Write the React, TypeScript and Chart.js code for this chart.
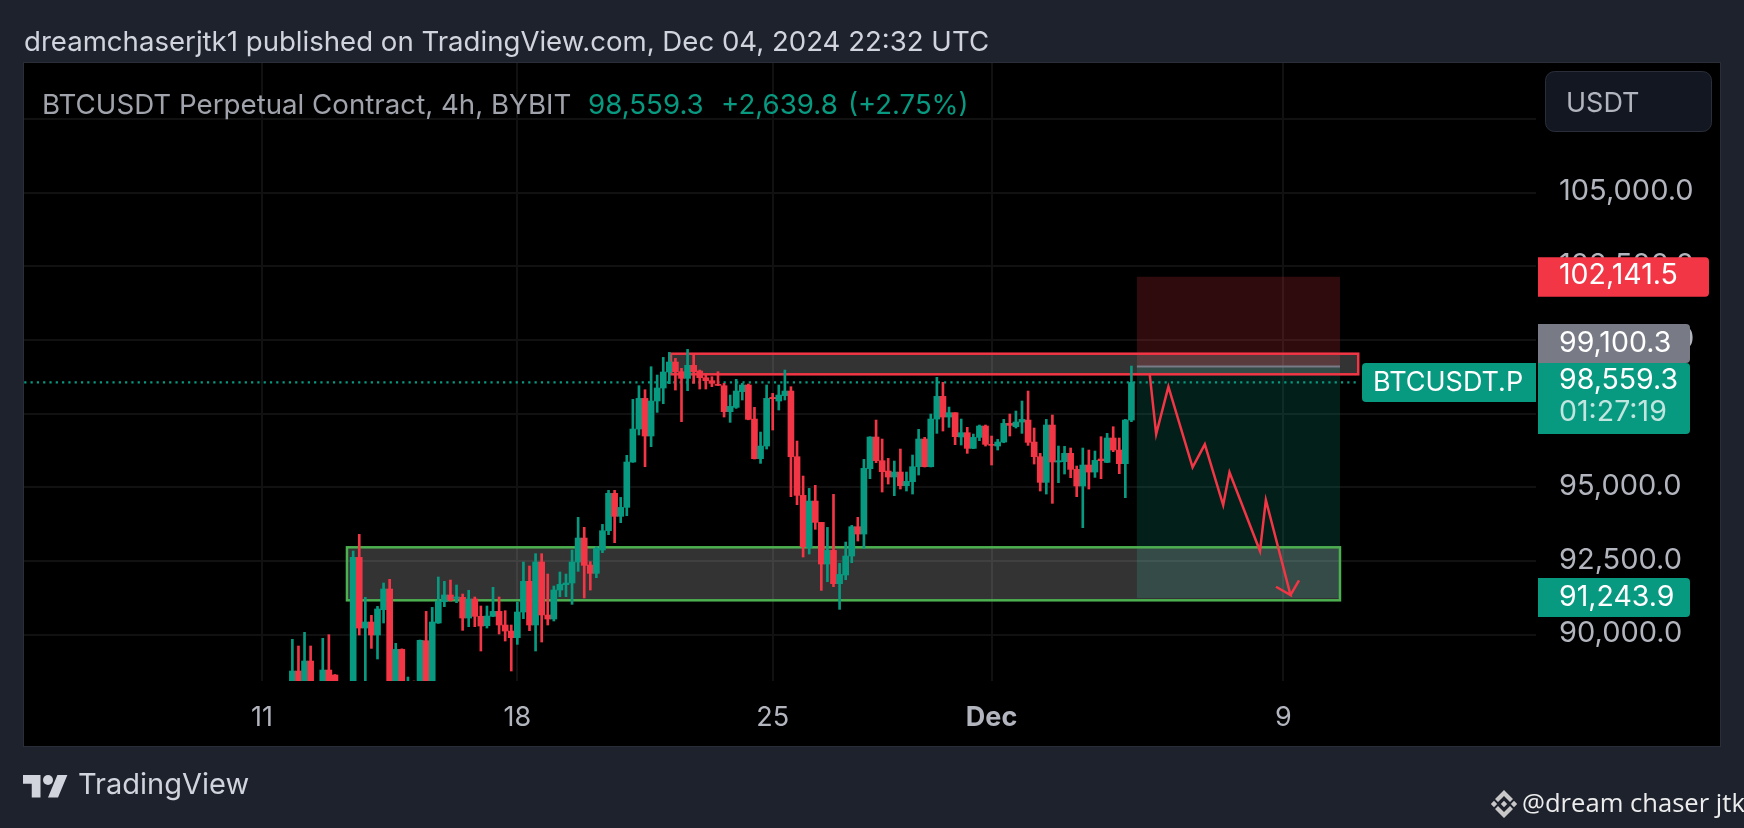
import React, { useEffect, useRef } from "react";
import { Chart, registerables } from "chart.js";

Chart.register(...registerables);

const firstBar = 5;
const opens = [
  88000,88769,88000,89108,88100,87800,88802,88633,87900,87800,
  87950,92624,90227,90431,89990,90849,91550,87900,89503,87900,
  88100,88000,89797,88441,90397,91120,91347,91233,91267,90566,
  91211,90623,90306,90623,90792,90329,90125,89899,90770,91810,
  90329,92466,90668,90532,91516,91697,91754,92466,93280,92364,
  92081,92873,93528,94795,94015,94320,95858,96977,98017,96740,
  97927,98368,98911,99250,98922,98696,99137,98945,98718,98617,
  98492,98447,97565,97712,98244,98470,97316,95971,96400,98050,
  97927,98108,98266,96038,94727,92963,94535,93811,92398,92861,
  91731,92025,92669,93664,93415,95632,96706,95903,95553,95349,
  95518,95055,95190,95699,96638,95699,97316,98085,97384,97531,
  96706,96853,96321,96694,97079,96457,96400,96536,97169,97056,
  97214,97282,96536,96038,95168,97113,95858,95870,96152,95609,
  95044,95756,95518,95960,95846,96672,96265,95801,97282,
];
const highs = [
  89843,89617,90080,89617,88300,89877,90001,88650,88200,88100,
  92839,93404,91267,90657,90962,91754,91878,89707,89520,88565,
  88429,89820,90792,90928,91957,91810,91855,91686,91380,91505,
  91279,90973,90973,91607,91279,90815,90329,91109,92466,92330,
  92749,92749,92059,91652,92127,92059,92873,93981,93642,92477,
  92986,93743,94897,94897,94659,96084,97983,98447,98311,99091,
  98809,99408,99578,99374,99035,99679,99521,98978,98865,98752,
  98922,98526,98130,98662,98526,98504,97712,96875,98470,98187,
  98470,98978,98413,96570,95383,94964,95066,93811,93641,94761,
  92420,93144,93709,93981,95948,96717,97282,96638,95982,95892,
  96299,95518,96095,96966,96694,97486,98730,98560,97723,97531,
  97316,97034,96807,97113,97113,96740,96626,97305,97486,97588,
  97927,98266,97011,96152,97305,97452,96400,96389,96333,95722,
  96333,96265,96231,96717,96830,97056,96672,97305,99114,
];
const lows = [
  87800,87700,87800,87900,87500,87500,87600,87700,87600,87500,
  87700,89990,88300,89537,89176,90397,87600,87600,87600,87800,
  87800,87900,88300,88407,90385,90951,91143,91086,90148,90272,
  90272,89447,90227,90611,90024,89786,88769,89673,90544,90137,
  89447,89752,90329,90465,91290,91290,91030,92149,91245,91516,
  91934,92782,93393,93121,93800,94037,95846,96774,95699,96378,
  97542,97836,98515,98300,97226,98277,98526,98334,98334,98413,
  98447,97384,97203,97678,97961,97290,95960,95812,96299,96943,
  97621,97961,94682,94410,92635,92737,93574,91504,91798,91629,
  90860,91866,92443,93178,92929,95292,95835,94840,95111,94716,
  94942,94874,94772,95417,95690,95690,96830,96909,97034,96446,
  96434,96152,96310,96581,96400,95756,96265,96513,96740,97011,
  96830,96423,95790,94874,94772,94456,95157,95451,95326,94682,
  93630,94942,95337,95292,95835,96208,95462,94648,97226,
];
const closes = [
  88769,88000,89108,88100,87700,88802,87900,87900,87800,87950,
  92624,90227,90431,89990,90872,91550,87900,89503,87800,88200,
  87900,89809,88429,90431,91143,91347,91177,91279,90566,91211,
  90623,90295,90634,90792,90329,90125,89899,90770,91810,90329,
  92466,90668,90532,91516,91708,91754,92466,93280,92353,92081,
  92929,93528,94795,94015,94320,95858,96977,98017,96740,97927,
  98368,98911,99250,98922,98696,99137,98922,98718,98617,98526,
  98458,97565,97746,98266,98470,97305,95971,96400,98017,98006,
  98130,98266,96038,94727,92986,94535,93811,92398,92861,91731,
  92047,92669,93664,93415,95643,96706,95903,95530,95349,95518,
  95055,95202,95699,96638,95699,97316,98085,97384,97531,96717,
  96853,96321,96694,97079,96457,96423,96536,97169,97101,97214,
  97305,96525,96038,95168,97113,95858,95903,96152,95609,95044,
  95756,95518,95914,95903,96672,96265,95801,97282,98559.3,
];

const timeTickBars = [0, 42, 84, 120, 168];
const timeTickLabels = ["11", "18", "25", "Dec", "9"];
const priceTicks = [90000, 92500, 95000, 97500, 100000, 102500, 105000, 107500];

const pathBars = [145.99, 147.07, 149.08, 153.06, 155.07, 158.09, 159.13, 164.14, 165.11, 169.16, 166.78, 169.16, 170.56];
const pathPrices = [98867, 96808, 98412, 95678, 96458, 94400, 95509, 92839, 94569, 91347, 91628, 91347, 91845];

const lastPrice = 98559.3;
const entryPrice = 99100.3;
const stopPrice = 102141.5;
const targetPrice = 91243.9;

const resistanceZone = { fromBar: 67.27, toBar: 180.3, top: 99532, bottom: 98833 };
const supportZone = { fromBar: 13.98, toBar: 177.3, top: 92965, bottom: 91167 };
const positionTool = { fromBar: 143.9, toBar: 177.3 };

const GREEN = "#089981";
const RED = "#f23645";
const SANS = 'Inter, "Noto Sans", sans-serif';

const barIndex = (i: number) => firstBar + i;
const candleColors = closes.map((c, i) => (c >= opens[i] ? GREEN : RED));

function txt(ctx: any, s: string, x: number, y: number, font: string, color: string) {
  ctx.font = font;
  ctx.fillStyle = color;
  ctx.textBaseline = "middle";
  ctx.textAlign = "left";
  ctx.fillText(s, x, y);
}

function roundedTag(ctx: any, x: number, y: number, w: number, h: number, radii: number[], fill: string) {
  ctx.beginPath();
  ctx.roundRect(x, y, w, h, radii);
  ctx.fillStyle = fill;
  ctx.fill();
}

const backgroundPlugin = {
  id: "backgroundPlugin",
  beforeDraw(chart: any) {
    const { ctx, width, height } = chart;
    ctx.save();
    ctx.fillStyle = "#1e222d";
    ctx.fillRect(0, 0, width, height);
    ctx.fillStyle = "#000000";
    ctx.fillRect(24, 63, 1696, 683);
    ctx.strokeStyle = "#2a2e39";
    ctx.lineWidth = 1;
    ctx.strokeRect(23.5, 62.5, 1697, 684);
    ctx.restore();
  },
};

const zonesPlugin = {
  id: "zonesPlugin",
  beforeDatasetsDraw(chart: any) {
    const { ctx, scales } = chart;
    const X = (v: number) => scales.x.getPixelForValue(v);
    const Y = (v: number) => scales.y.getPixelForValue(v);
    ctx.save();
    const px0 = X(positionTool.fromBar);
    const px1 = X(positionTool.toBar);
    ctx.fillStyle = "rgba(242,54,69,0.2)";
    ctx.fillRect(px0, Y(stopPrice), px1 - px0, Y(entryPrice) - Y(stopPrice));
    ctx.fillStyle = "rgba(8,153,129,0.2)";
    ctx.fillRect(px0, Y(entryPrice), px1 - px0, Y(targetPrice) - Y(entryPrice));

    const zone = (z: any, stroke: string) => {
      const x = X(z.fromBar);
      const w = X(z.toBar) - x;
      const y = Y(z.top);
      const h = Y(z.bottom) - y;
      ctx.fillStyle = "rgba(255,255,255,0.2)";
      ctx.fillRect(x, y, w, h);
      ctx.strokeStyle = stroke;
      ctx.lineWidth = 2.5;
      ctx.strokeRect(x, y, w, h);
    };
    zone(supportZone, "#4caf50");
    zone(resistanceZone, RED);

    ctx.strokeStyle = "#787b86";
    ctx.lineWidth = 2;
    ctx.beginPath();
    ctx.moveTo(px0, Y(entryPrice));
    ctx.lineTo(px1, Y(entryPrice));
    ctx.stroke();
    ctx.restore();
  },
};

const overlayPlugin = {
  id: "overlayPlugin",
  afterDraw(chart: any) {
    const { ctx, scales } = chart;
    const Y = (v: number) => scales.y.getPixelForValue(v);
    ctx.save();

    // header and legend
    txt(ctx, "dreamchaserjtk1 published on TradingView.com, Dec 04, 2024 22:32 UTC", 24, 43, `27.6px ${SANS}`, "#d1d4dc");
    txt(ctx, "BTCUSDT Perpetual Contract, 4h, BYBIT", 42, 106, `27.7px ${SANS}`, "#a0a3ab");
    txt(ctx, "98,559.3", 588, 106, `27.7px ${SANS}`, GREEN);
    txt(ctx, "+2,639.8", 721, 106, `27.7px ${SANS}`, GREEN);
    txt(ctx, "(+2.75%)", 848, 106, `27.5px ${SANS}`, GREEN);

    // currency button
    ctx.beginPath();
    ctx.roundRect(1545.5, 71.5, 166, 60, 9);
    ctx.fillStyle = "#131722";
    ctx.fill();
    ctx.strokeStyle = "#2a2e39";
    ctx.lineWidth = 1;
    ctx.stroke();
    txt(ctx, "USDT", 1566, 103.5, `27px ${SANS}`, "#b2b5be");

    // price tags
    const tagFont = `28.5px ${SANS}`;
    const yStop = Y(stopPrice);
    roundedTag(ctx, 1538, yStop - 19.5, 171, 39.5, [0, 4, 4, 0], RED);
    txt(ctx, "102,141.5", 1559, yStop - 1, tagFont, "#ffffff");
    roundedTag(ctx, 1538, 324, 152, 39, [0, 4, 4, 0], "#787b86");
    txt(ctx, "99,100.3", 1559, 343.5, tagFont, "#ffffff");
    const yLast = Y(lastPrice);
    roundedTag(ctx, 1538, 363, 152, 71, [0, 4, 4, 0], GREEN);
    txt(ctx, "98,559.3", 1559, yLast - 1.5, tagFont, "#ffffff");
    txt(ctx, "01:27:19", 1559, yLast + 30, tagFont, "rgba(255,255,255,0.75)");
    roundedTag(ctx, 1362, yLast - 19.5, 174, 39, [4, 0, 0, 4], GREEN);
    txt(ctx, "BTCUSDT.P", 1373, yLast + 0.5, `27px ${SANS}`, "#ffffff");
    const yTarget = Y(targetPrice);
    roundedTag(ctx, 1538, yTarget - 20, 152, 39, [0, 4, 4, 0], GREEN);
    txt(ctx, "91,243.9", 1559, yTarget - 1, tagFont, "#ffffff");

    // TradingView mark
    ctx.save();
    ctx.translate(23, 770);
    ctx.scale(1.25, 1.25);
    ctx.fillStyle = "#d1d4dc";
    ctx.fill(new Path2D("M14 22H7V11H0V4h14v18zM28 22h-8l7.5-18h8L28 22z"));
    ctx.beginPath();
    ctx.arc(20, 8, 4, 0, Math.PI * 2);
    ctx.fill();
    ctx.restore();
    txt(ctx, "TradingView", 78, 785, `29px ${SANS}`, "#d1d4dc");

    // author stamp
    const diamond = (cx: number, cy: number, r: number) => {
      ctx.beginPath();
      ctx.moveTo(cx, cy - r);
      ctx.lineTo(cx + r, cy);
      ctx.lineTo(cx, cy + r);
      ctx.lineTo(cx - r, cy);
      ctx.closePath();
      ctx.fill();
    };
    ctx.fillStyle = "#c8c8c8";
    diamond(1504, 804, 3.2);
    diamond(1494, 804, 3.2);
    diamond(1514, 804, 3.2);
    ctx.fill(new Path2D("M1504 790l9 9-3 3-6-6-6 6-3-3zM1504 818l9-9-3-3-6 6-6-6-3 3z"));
    txt(ctx, "@dream chaser jtk", 1522, 805, `25.6px "Open Sans", sans-serif`, "#ececec");
    ctx.restore();
  },
};

export default function App() {
  const ref = useRef<HTMLCanvasElement | null>(null);

  useEffect(() => {
    document.body.style.margin = "0";
    document.body.style.background = "#1e222d";
    const chart = new Chart(ref.current as HTMLCanvasElement, {
      type: "bar",
      data: {
        datasets: [
          {
            type: "line",
            label: "Projected path",
            data: pathBars.map((b, i) => ({ x: b, y: pathPrices[i] })),
            borderColor: RED,
            borderWidth: 2.5,
            pointRadius: 0,
            tension: 0,
            order: 0,
          },
          {
            type: "bar",
            label: "Body",
            data: closes.map((c, i) => ({ x: barIndex(i), y: [opens[i], c] })),
            backgroundColor: candleColors,
            maxBarThickness: 6,
            barPercentage: 1,
            categoryPercentage: 1,
            grouped: false,
            borderSkipped: false,
            order: 1,
          },
          {
            type: "bar",
            label: "Wick",
            data: highs.map((h, i) => ({ x: barIndex(i), y: [lows[i], h] })),
            backgroundColor: candleColors,
            maxBarThickness: 2,
            barPercentage: 1,
            categoryPercentage: 1,
            grouped: false,
            borderSkipped: false,
            order: 2,
          },
          {
            type: "line",
            label: "Last price",
            data: [
              { x: -39.1, y: lastPrice },
              { x: 180.3, y: lastPrice },
            ],
            borderColor: GREEN,
            borderWidth: 2.4,
            borderDash: [2.2, 4.1],
            pointRadius: 0,
            order: 3,
          },
        ],
      } as any,
      options: {
        responsive: false,
        animation: false,
        devicePixelRatio: 1,
        events: [],
        layout: { padding: { left: 24, right: 24, top: 63, bottom: 82 } },
        plugins: { legend: { display: false }, tooltip: { enabled: false } },
        scales: {
          x: {
            type: "linear",
            offset: false,
            min: -39.14,
            max: 209.54,
            afterFit: (s: any) => {
              s.height = 65;
            },
            afterBuildTicks: (s: any) => {
              s.ticks = timeTickBars.map((value) => ({ value }));
            },
            grid: { color: "#111111", lineWidth: 2, drawTicks: false, offset: false },
            border: { display: false },
            ticks: {
              autoSkip: false,
              maxRotation: 0,
              padding: 21,
              color: "#b2b5be",
              font: (c: any) => ({
                family: SANS,
                size: 27,
                weight: c.tick && c.tick.value === 120 ? "bold" : "normal",
              }),
              callback: (v: any) => timeTickLabels[timeTickBars.indexOf(v)] ?? "",
            },
          },
          y: {
            type: "linear",
            position: "right",
            min: 88430,
            max: 109393,
            afterFit: (s: any) => {
              s.width = 184;
            },
            afterBuildTicks: (s: any) => {
              s.ticks = priceTicks.map((value) => ({ value }));
            },
            grid: { color: "#111111", lineWidth: 2, drawTicks: false },
            border: { display: false },
            ticks: {
              padding: 23,
              labelOffset: -1,
              color: "#b2b5be",
              font: { family: SANS, size: 29 },
              callback: (v: any) => Number(v).toLocaleString("en-US", { minimumFractionDigits: 1 }),
            },
          },
        },
      },
      plugins: [backgroundPlugin, zonesPlugin, overlayPlugin],
    } as any);
    return () => chart.destroy();
  }, []);

  return (
    <div style={{ position: "absolute", left: 0, top: 0, width: 1744, height: 828 }}>
      <canvas ref={ref} width={1744} height={828} style={{ display: "block", width: 1744, height: 828 }} />
    </div>
  );
}
